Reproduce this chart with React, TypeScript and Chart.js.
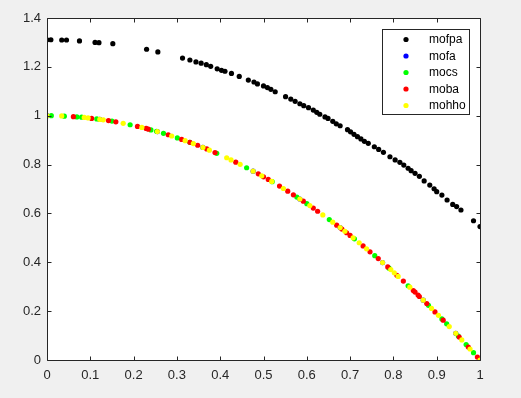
import React, { useEffect, useRef } from 'react';
import { Chart, registerables } from 'chart.js';

Chart.register(...registerables);

const seriesNames = ['mofpa', 'mofa', 'mocs', 'moba', 'mohho'];
const seriesColors = ['#000000', '#0000ff', '#00ff00', '#ff0000', '#ffff00'];

const mofpaX = [0, 0.009, 0.034, 0.045, 0.075, 0.111, 0.12, 0.152, 0.23, 0.256, 0.313, 0.33, 0.344, 0.356, 0.368, 0.378, 0.393, 0.403, 0.411, 0.426, 0.444, 0.465, 0.478, 0.486, 0.5, 0.509, 0.517, 0.527, 0.551, 0.563, 0.573, 0.584, 0.593, 0.604, 0.615, 0.623, 0.63, 0.642, 0.649, 0.66, 0.668, 0.677, 0.694, 0.701, 0.709, 0.717, 0.725, 0.733, 0.742, 0.756, 0.766, 0.777, 0.792, 0.804, 0.815, 0.824, 0.834, 0.841, 0.85, 0.86, 0.871, 0.884, 0.894, 0.9, 0.912, 0.924, 0.937, 0.946, 0.956, 0.985, 1.0];
const mofpaY = [1.311, 1.311, 1.31, 1.31, 1.306, 1.3, 1.299, 1.295, 1.272, 1.261, 1.236, 1.228, 1.22, 1.215, 1.209, 1.202, 1.192, 1.186, 1.182, 1.173, 1.161, 1.146, 1.138, 1.13, 1.122, 1.115, 1.108, 1.098, 1.078, 1.068, 1.059, 1.049, 1.041, 1.033, 1.023, 1.014, 1.006, 0.995, 0.989, 0.977, 0.967, 0.959, 0.943, 0.934, 0.924, 0.914, 0.905, 0.895, 0.887, 0.873, 0.862, 0.85, 0.832, 0.819, 0.809, 0.798, 0.785, 0.775, 0.764, 0.752, 0.733, 0.716, 0.701, 0.689, 0.675, 0.655, 0.637, 0.628, 0.614, 0.57, 0.546];

const mofaX = [0, 0.122, 0.255, 0.36, 0.476, 0.584, 0.677, 0.775, 0.869, 0.944, 1.0];
const mofaY = [1.0, 0.985, 0.935, 0.87, 0.773, 0.659, 0.542, 0.399, 0.245, 0.109, 0.0];

const mocsX = [0.01, 0.04, 0.069, 0.08, 0.115, 0.15, 0.192, 0.24, 0.253, 0.269, 0.301, 0.33, 0.392, 0.461, 0.52, 0.577, 0.6, 0.652, 0.71, 0.757, 0.79, 0.834, 0.881, 0.912, 0.923, 0.95, 0.968, 0.985, 1.0];
const mocsY = [1.0, 0.998, 0.995, 0.994, 0.987, 0.978, 0.963, 0.942, 0.936, 0.928, 0.909, 0.891, 0.846, 0.787, 0.73, 0.667, 0.64, 0.575, 0.496, 0.427, 0.376, 0.304, 0.224, 0.168, 0.148, 0.098, 0.063, 0.03, 0.0];

const mobaX = [0.061, 0.103, 0.142, 0.159, 0.209, 0.229, 0.234, 0.28, 0.311, 0.33, 0.348, 0.369, 0.388, 0.436, 0.488, 0.5, 0.511, 0.537, 0.556, 0.569, 0.592, 0.615, 0.625, 0.669, 0.681, 0.692, 0.7, 0.73, 0.746, 0.765, 0.787, 0.808, 0.823, 0.846, 0.85, 0.857, 0.86, 0.877, 0.896, 0.915, 0.952, 0.973, 0.994];
const mobaY = [0.996, 0.989, 0.98, 0.975, 0.956, 0.948, 0.945, 0.922, 0.903, 0.891, 0.879, 0.864, 0.849, 0.81, 0.762, 0.75, 0.739, 0.712, 0.691, 0.676, 0.65, 0.622, 0.609, 0.552, 0.536, 0.521, 0.51, 0.467, 0.443, 0.415, 0.381, 0.347, 0.323, 0.284, 0.278, 0.266, 0.26, 0.231, 0.197, 0.163, 0.094, 0.053, 0.012];

const mohhoX = [0, 0.034, 0.086, 0.095, 0.122, 0.13, 0.176, 0.219, 0.255, 0.288, 0.319, 0.338, 0.36, 0.375, 0.415, 0.425, 0.446, 0.476, 0.496, 0.519, 0.546, 0.584, 0.607, 0.637, 0.66, 0.677, 0.688, 0.707, 0.721, 0.738, 0.775, 0.794, 0.802, 0.811, 0.838, 0.869, 0.888, 0.904, 0.929, 0.944, 0.958, 0.977, 1.0];
const mohhoY = [1.0, 0.999, 0.993, 0.991, 0.985, 0.983, 0.969, 0.952, 0.935, 0.917, 0.898, 0.886, 0.87, 0.859, 0.828, 0.819, 0.801, 0.773, 0.754, 0.731, 0.702, 0.659, 0.632, 0.594, 0.564, 0.542, 0.527, 0.5, 0.48, 0.455, 0.399, 0.37, 0.357, 0.342, 0.298, 0.245, 0.211, 0.183, 0.137, 0.109, 0.082, 0.045, 0.0];

const xTicks = [0, 0.1, 0.2, 0.3, 0.4, 0.5, 0.6, 0.7, 0.8, 0.9, 1];
const xTickLabels = ['0', '0.1', '0.2', '0.3', '0.4', '0.5', '0.6', '0.7', '0.8', '0.9', '1'];
const yTicks = [0, 0.2, 0.4, 0.6, 0.8, 1, 1.2, 1.4];
const yTickLabels = ['0', '0.2', '0.4', '0.6', '0.8', '1', '1.2', '1.4'];

const seriesX = [mofpaX, mofaX, mocsX, mobaX, mohhoX];
const seriesY = [mofpaY, mofaY, mocsY, mobaY, mohhoY];

const FONT = '"Liberation Sans", Arial, Helvetica, sans-serif';
const AXIS_COLOR = '#262626';

const matlabPlugin = {
  id: 'matlabAxes',
  beforeDatasetsDraw(chart: any) {
    const { ctx, chartArea } = chart;
    ctx.save();
    ctx.fillStyle = '#ffffff';
    ctx.fillRect(chartArea.left, chartArea.top, chartArea.right - chartArea.left, chartArea.bottom - chartArea.top);
    ctx.restore();
  },
  afterDatasetsDraw(chart: any) {
    const { ctx, chartArea } = chart;
    const xs = chart.scales.x;
    const ys = chart.scales.y;
    const L = chartArea.left, R = chartArea.right, T = chartArea.top, B = chartArea.bottom;
    const tl = 4;
    ctx.save();
    ctx.strokeStyle = AXIS_COLOR;
    ctx.lineWidth = 1;
    ctx.beginPath();
    ctx.rect(L + 0.5, T + 0.5, R - L, B - T);
    xTicks.forEach((v) => {
      const px = Math.round(xs.getPixelForValue(v)) + 0.5;
      ctx.moveTo(px, B + 0.5);
      ctx.lineTo(px, B + 0.5 - tl);
      ctx.moveTo(px, T + 0.5);
      ctx.lineTo(px, T + 0.5 + tl);
    });
    yTicks.forEach((v) => {
      const py = Math.round(ys.getPixelForValue(v)) + 0.5;
      ctx.moveTo(L + 0.5, py);
      ctx.lineTo(L + 0.5 + tl, py);
      ctx.moveTo(R + 0.5, py);
      ctx.lineTo(R + 0.5 - tl, py);
    });
    ctx.stroke();

    // legend box
    const bx = 382.5, by = 29.5, bw = 87, bh = 85;
    ctx.fillStyle = '#ffffff';
    ctx.fillRect(bx, by, bw, bh);
    ctx.strokeStyle = AXIS_COLOR;
    ctx.strokeRect(bx, by, bw, bh);
    ctx.font = '12px ' + FONT;
    ctx.textBaseline = 'middle';
    ctx.textAlign = 'left';
    chart.data.datasets.forEach((ds: any, i: number) => {
      const ry = 39.5 + i * 16.5;
      ctx.fillStyle = ds.backgroundColor;
      ctx.beginPath();
      ctx.arc(406, ry, 2.6, 0, Math.PI * 2);
      ctx.fill();
      ctx.fillStyle = '#000000';
      ctx.fillText(ds.label, 429, ry + 0.5);
    });
    ctx.restore();
  },
};

export default function App() {
  const ref = useRef<HTMLCanvasElement | null>(null);

  useEffect(() => {
    if (!ref.current) return;
    const datasets = seriesNames.map((name, i) => ({
      label: name,
      data: seriesX[i].map((x, j) => ({ x, y: seriesY[i][j] })),
      backgroundColor: seriesColors[i],
      borderColor: seriesColors[i],
      borderWidth: 0,
      pointRadius: 2.6,
      pointHoverRadius: 2.6,
      showLine: false,
      order: seriesNames.length - 1 - i,
    }));
    const chart = new Chart(ref.current, {
      type: 'scatter',
      data: { datasets },
      options: {
        animation: false,
        responsive: false,
        maintainAspectRatio: false,
        devicePixelRatio: 1,
        layout: { padding: { top: 18, right: 41, bottom: 0, left: 0 } },
        plugins: { legend: { display: false }, tooltip: { enabled: false } },
        scales: {
          x: {
            type: 'linear',
            min: 0,
            max: 1,
            grid: { display: false, drawTicks: false },
            border: { display: false },
            afterBuildTicks: (scale: any) => {
              scale.ticks = xTicks.map((v) => ({ value: v }));
            },
            afterFit: (scale: any) => {
              scale.height = 38;
            },
            ticks: {
              autoSkip: false,
              maxRotation: 0,
              padding: 8,
              color: AXIS_COLOR,
              font: { family: FONT, size: 13 },
              callback: (_v: any, idx: number) => xTickLabels[idx],
            },
          },
          y: {
            type: 'linear',
            min: 0,
            max: 1.4,
            grid: { display: false, drawTicks: false },
            border: { display: false },
            afterBuildTicks: (scale: any) => {
              scale.ticks = yTicks.map((v) => ({ value: v }));
            },
            afterFit: (scale: any) => {
              scale.width = 47;
            },
            ticks: {
              autoSkip: false,
              padding: 6,
              color: AXIS_COLOR,
              font: { family: FONT, size: 13 },
              callback: (_v: any, idx: number) => yTickLabels[idx],
            },
          },
        },
      },
      plugins: [matlabPlugin],
    });
    return () => chart.destroy();
  }, []);

  return (
    <div style={{ position: 'fixed', left: 0, top: 0, width: 521, height: 398, background: '#f0f0f0' }}>
      <canvas ref={ref} width={521} height={398} style={{ display: 'block', width: 521, height: 398 }} />
    </div>
  );
}
